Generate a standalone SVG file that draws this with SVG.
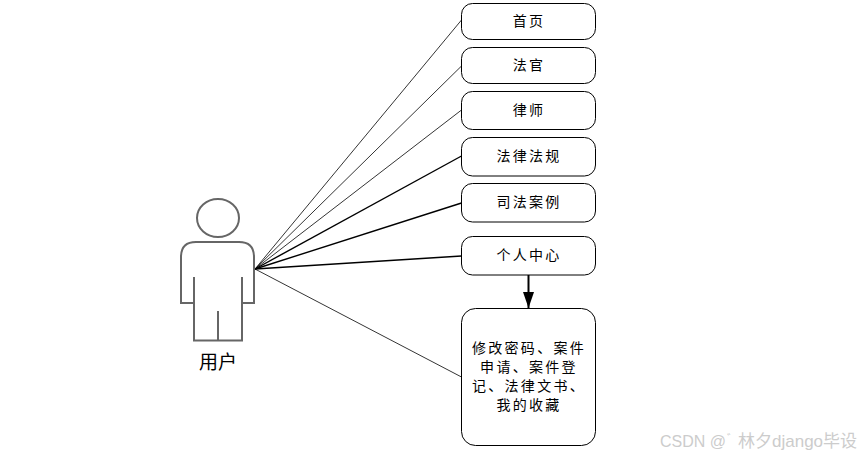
<svg xmlns="http://www.w3.org/2000/svg" width="859" height="456" viewBox="0 0 859 456">
<style>
text{font-family:"Noto Sans CJK SC","Liberation Sans",sans-serif;fill:#000;text-anchor:middle}
.n rect{fill:#fff;stroke:#000;stroke-width:1}
.n text{font-size:14px;letter-spacing:2.300px}
.c line{stroke:#000;stroke-width:.8}
.c line.b{stroke-width:1.4}
.a{fill:none;stroke:#666;stroke-width:2}
</style>
<defs><marker id="ah" markerUnits="userSpaceOnUse" markerWidth="16" markerHeight="12" refX="16" refY="6" orient="auto"><path d="M0 0.500L16 6L0 11.500Z" fill="#000"/></marker></defs>
<rect width="859" height="456" fill="#fff"/>
<g id="connectors" class="c">
<line x1="255" y1="269" x2="461.500" y2="20"/>
<line x1="255" y1="269" x2="461.500" y2="66"/>
<line x1="255" y1="269" x2="461.500" y2="110"/>
<line class="b" x1="255" y1="269" x2="461.500" y2="156"/>
<line class="b" x1="255" y1="269" x2="461.500" y2="203"/>
<line class="b" x1="255" y1="269" x2="461.500" y2="256"/>
<line x1="255" y1="269" x2="461.500" y2="377"/>
<line x1="528.500" y1="275" x2="528.500" y2="308" style="stroke-width:2" marker-end="url(#ah)"/>
</g>
<g id="actor">
<ellipse class="a" cx="218" cy="218" rx="21" ry="19"/>
<path class="a" d="M194 277V303H181V257Q181 242 196 242H239Q254 242 254 257V303H242V277M194 303V340.500H242V303M218 311V340.500"/>
<text x="218" y="369" style="font-size:19px">用户</text>
</g>
<g id="n1" class="n"><rect x="461.500" y="3.500" width="134" height="36" rx="11"/><text x="529" y="26">首页</text></g>
<g id="n2" class="n"><rect x="461.500" y="47.500" width="134" height="36" rx="11"/><text x="529" y="70">法官</text></g>
<g id="n3" class="n"><rect x="461.500" y="91.500" width="134" height="38" rx="11"/><text x="529" y="115">律师</text></g>
<g id="n4" class="n"><rect x="461.500" y="137.500" width="134" height="38.500" rx="11"/><text x="529" y="161">法律法规</text></g>
<g id="n5" class="n"><rect x="461.500" y="183.500" width="134" height="38.500" rx="11"/><text x="529" y="207">司法案例</text></g>
<g id="n6" class="n"><rect x="461.500" y="236.500" width="134" height="38.500" rx="11"/><text x="529" y="260">个人中心</text></g>
<g id="n7" class="n"><rect x="461.500" y="308.500" width="134" height="137" rx="14"/>
<text x="529" y="353">修改密码、案件</text><text x="529" y="372">申请、案件登</text><text x="529" y="391">记、法律文书、</text><text x="529" y="410">我的收藏</text></g>
<text x="660" y="447" style="font-size:16px;fill:#ccc;text-anchor:start;font-family:'Liberation Sans','Noto Sans CJK SC',sans-serif">CSDN @<tspan x="727" y="443" style="font-size:11px">゛</tspan><tspan x="738" y="447" style="font-size:17px">林夕django毕设</tspan></text>
</svg>
